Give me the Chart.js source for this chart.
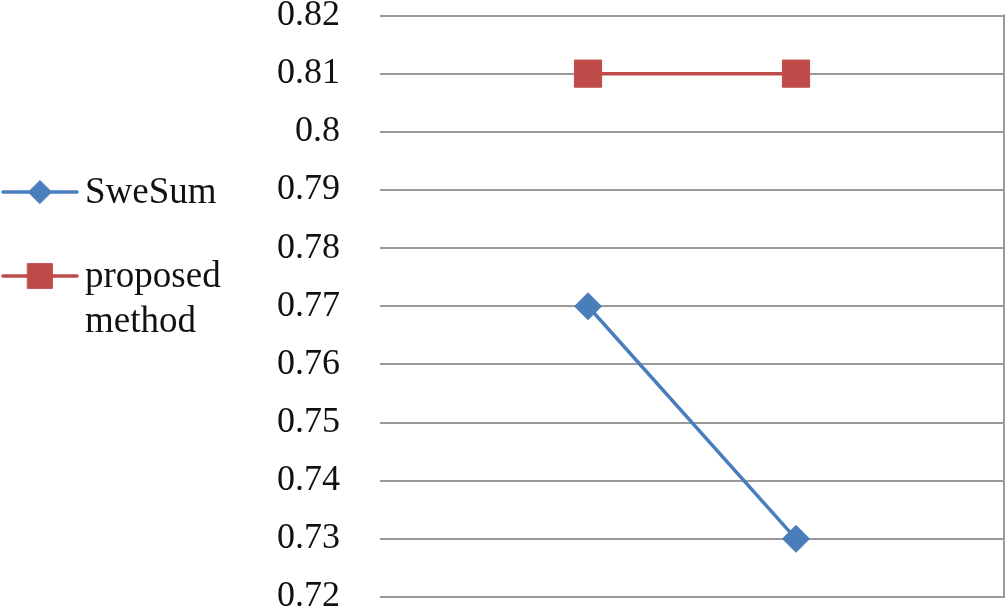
<!DOCTYPE html>
<html>
<head>
<meta charset="utf-8">
<script src="https://cdn.jsdelivr.net/npm/chart.js@4/dist/chart.umd.min.js"></script>
<style>
  html, body { margin: 0; padding: 0; background: #fff; overflow: hidden; }
  #wrap { width: 1008px; height: 613px; position: relative; }
  canvas { display: block; }
</style>
</head>
<body>
<div id="wrap"><canvas id="c" width="1008" height="613"></canvas></div>
<script>
const categories = ['', '1', '2', ''];
const sweSum = [null, 0.77, 0.73, null];
const proposed = [null, 0.81, 0.81, null];
const seriesNames = ['SweSum', ['proposed', 'method']];
const yMin = 0.72, yMax = 0.82, yStep = 0.01;

const BLUE = '#4A7EBB';
const RED = '#BE4B48';
const FONT = '"Liberation Serif", "Times New Roman", serif';

const sideLegend = {
  id: 'sideLegend',
  afterDraw(chart) {
    const ctx = chart.ctx;
    const items = [
      { color: BLUE, style: 'rectRot', radius: 11.5, y: 192, text: seriesNames[0], baselines: [203] },
      { color: RED, style: 'rect', radius: 17.5, y: 276, text: seriesNames[1], baselines: [287, 332] }
    ];
    ctx.save();
    items.forEach(it => {
      ctx.strokeStyle = it.color;
      ctx.lineWidth = 3.5;
      ctx.lineCap = 'round';
      ctx.beginPath();
      ctx.moveTo(3, it.y);
      ctx.lineTo(77, it.y);
      ctx.stroke();
      ctx.fillStyle = it.color;
      ctx.lineWidth = 1;
      Chart.helpers.drawPoint(ctx, { pointStyle: it.style, radius: it.radius, borderWidth: 1 }, 40, it.y);
      ctx.fillStyle = '#111';
      ctx.font = '37px ' + FONT;
      ctx.textAlign = 'left';
      ctx.textBaseline = 'alphabetic';
      const lines = Array.isArray(it.text) ? it.text : [it.text];
      lines.forEach((t, i) => ctx.fillText(t, 85, it.baselines[i]));
    });
    ctx.restore();
  }
};

const rightBorder = {
  id: 'rightBorder',
  beforeDatasetsDraw(chart) {
    const a = chart.chartArea;
    const ctx = chart.ctx;
    ctx.save();
    ctx.strokeStyle = '#9a9a9a';
    ctx.lineWidth = 2;
    ctx.beginPath();
    ctx.moveTo(a.right, a.top - 1);
    ctx.lineTo(a.right, a.bottom + 1);
    ctx.stroke();
    ctx.restore();
  }
};

new Chart(document.getElementById('c'), {
  type: 'line',
  data: {
    labels: categories,
    datasets: [
      {
        label: 'SweSum',
        data: sweSum,
        borderColor: BLUE,
        backgroundColor: BLUE,
        borderWidth: 3.5,
        pointStyle: 'rectRot',
        pointRadius: 13.5,
        pointBorderWidth: 1,
        pointBackgroundColor: BLUE,
        pointBorderColor: BLUE,
        tension: 0,
        clip: false
      },
      {
        label: 'proposed method',
        data: proposed,
        borderColor: RED,
        backgroundColor: RED,
        borderWidth: 3.5,
        pointStyle: 'rect',
        pointRadius: 19.2,
        pointBorderWidth: 1,
        pointBackgroundColor: RED,
        pointBorderColor: RED,
        tension: 0,
        clip: false
      }
    ]
  },
  options: {
    responsive: false,
    animation: false,
    devicePixelRatio: 1,
    layout: { autoPadding: false, padding: { top: 15.5, bottom: 16, right: 4, left: 0 } },
    plugins: {
      legend: { display: false },
      tooltip: { enabled: false }
    },
    scales: {
      x: {
        display: false,
        offset: false
      },
      y: {
        min: yMin,
        max: yMax,
        border: { display: false },
        grid: { color: '#9a9a9a', lineWidth: 2, drawTicks: false },
        ticks: {
          stepSize: yStep,
          padding: 40,
          color: '#111',
          font: { family: FONT, size: 36 },
          callback: v => String(parseFloat(v.toFixed(2)))
        },
        afterFit(scale) {
          scale.width = 380;
          scale.paddingTop = 0;
          scale.paddingBottom = 0;
        }
      }
    }
  },
  plugins: [sideLegend, rightBorder]
});
</script>
</body>
</html>
